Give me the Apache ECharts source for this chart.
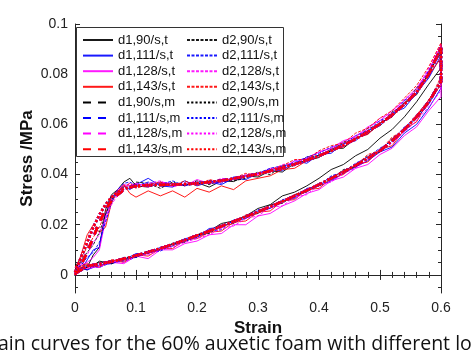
<!DOCTYPE html>
<html>
<head>
<meta charset="utf-8">
<script src="https://cdn.jsdelivr.net/npm/echarts@6/dist/echarts.min.js"></script>
<style>
html,body{margin:0;padding:0;background:#fff;}
#chart{width:474px;height:364px;}
</style>
</head>
<body>
<div id="chart"></div>
<script>
// ---------- DATA ----------
const loadStrain = [0,0.01,0.02,0.03,0.04,0.05,0.06,0.07,0.08,0.09,0.10,0.12,0.14,0.16,0.18,0.20,0.22,0.24,0.26,0.28,0.30,0.32,0.34,0.36,0.38,0.40,0.42,0.44,0.46,0.48,0.50,0.52,0.54,0.56,0.58,0.60];
const unloadStrain = [0.60,0.58,0.56,0.54,0.52,0.50,0.48,0.46,0.44,0.42,0.40,0.38,0.36,0.34,0.32,0.30,0.28,0.26,0.24,0.22,0.20,0.18,0.16,0.14,0.12,0.10,0.08,0.06,0.04,0.02,0.00];

// test curves (t)
const d1_90_t_load   = [0.004,0.005,0.003,0.008,0.011,0.026,0.032,0.034,0.037,0.0385,0.0355,0.035,0.037,0.0355,0.036,0.0368,0.035,0.0375,0.0372,0.0395,0.039,0.0415,0.041,0.0445,0.0455,0.0468,0.0502,0.0505,0.0545,0.0562,0.0605,0.063,0.0688,0.0718,0.0808,0.0885];
const d1_90_t_unload = [0.0825,0.076,0.069,0.063,0.058,0.0545,0.050,0.0475,0.044,0.042,0.0385,0.0355,0.033,0.0315,0.028,0.0265,0.0235,0.0215,0.0205,0.0175,0.016,0.0135,0.0125,0.010,0.0095,0.007,0.0065,0.0045,0.0055,0.002,0.004];
const d2_90_t_load   = [0.002,0.006,0.009,0.012,0.017,0.024,0.030,0.033,0.035,0.0345,0.037,0.0365,0.0345,0.037,0.0355,0.0375,0.036,0.038,0.0375,0.0385,0.041,0.040,0.0435,0.0435,0.047,0.0475,0.0495,0.053,0.054,0.0585,0.0595,0.065,0.0675,0.0745,0.0795,0.0905];
const d2_90_t_unload = [0.078,0.0685,0.0635,0.0575,0.0545,0.049,0.0475,0.043,0.042,0.038,0.0365,0.033,0.032,0.0285,0.028,0.0245,0.0235,0.0205,0.020,0.0165,0.016,0.013,0.0125,0.010,0.0095,0.007,0.007,0.0045,0.005,0.003,0.002];
const d1_111_t_load   = [0.003,0.002,0.006,0.010,0.011,0.024,0.031,0.033,0.0355,0.034,0.036,0.0385,0.0355,0.035,0.0375,0.0355,0.037,0.036,0.0385,0.038,0.0405,0.042,0.0415,0.0455,0.0445,0.048,0.0485,0.0525,0.0535,0.0575,0.0595,0.0645,0.0665,0.0725,0.0785,0.0875];
const d1_111_t_unload = [0.0745,0.0665,0.060,0.0565,0.051,0.049,0.0455,0.043,0.0405,0.0375,0.0355,0.034,0.0305,0.0295,0.0265,0.0255,0.0225,0.0215,0.019,0.0185,0.015,0.0145,0.0115,0.011,0.0085,0.0085,0.006,0.0045,0.004,0.002,0.003];
const d2_111_t_load   = [0.002,0.004,0.007,0.009,0.013,0.021,0.029,0.034,0.0365,0.037,0.0355,0.037,0.036,0.0375,0.0355,0.0365,0.0375,0.0365,0.039,0.0395,0.0405,0.0425,0.0435,0.0445,0.047,0.0485,0.051,0.052,0.0555,0.0575,0.0615,0.0635,0.0695,0.0725,0.0815,0.0895];
const d2_111_t_unload = [0.0765,0.068,0.0625,0.059,0.0535,0.0505,0.047,0.0445,0.041,0.0395,0.0355,0.0345,0.031,0.030,0.0265,0.026,0.0225,0.022,0.018,0.0175,0.015,0.0135,0.012,0.0095,0.009,0.007,0.0055,0.005,0.003,0.0035,0.0015];
const d1_128_t_load   = [0.003,0.004,0.005,0.007,0.010,0.022,0.030,0.034,0.036,0.0355,0.0365,0.035,0.037,0.0365,0.0355,0.038,0.0365,0.037,0.0385,0.0395,0.040,0.0425,0.0425,0.0455,0.0465,0.049,0.0505,0.0535,0.055,0.059,0.0615,0.0655,0.0695,0.0745,0.0815,0.0915];
const d1_128_t_unload = [0.071,0.0655,0.059,0.0555,0.0505,0.048,0.044,0.0425,0.039,0.0375,0.034,0.0325,0.0295,0.0275,0.0245,0.0235,0.020,0.020,0.0165,0.016,0.0135,0.0125,0.010,0.010,0.0065,0.0075,0.0045,0.005,0.0035,0.0025,0.003];
const d2_128_t_load   = [0.001,0.005,0.008,0.013,0.016,0.023,0.028,0.032,0.035,0.0365,0.0355,0.0365,0.0375,0.035,0.0365,0.037,0.0365,0.0385,0.038,0.040,0.0405,0.0415,0.044,0.0445,0.0465,0.049,0.0505,0.053,0.0555,0.058,0.0625,0.0645,0.070,0.0735,0.0825,0.092];
const d2_128_t_unload = [0.0735,0.067,0.0615,0.057,0.0525,0.0495,0.046,0.0425,0.0405,0.037,0.036,0.032,0.031,0.0275,0.027,0.0235,0.0225,0.0195,0.0185,0.016,0.0145,0.013,0.011,0.010,0.008,0.0075,0.005,0.0055,0.003,0.0035,0.0015];
const d1_143_t_load   = [0.002,0.008,0.016,0.020,0.017,0.019,0.029,0.033,0.036,0.0325,0.031,0.0335,0.0315,0.0335,0.031,0.0345,0.033,0.0355,0.034,0.0375,0.0385,0.0395,0.042,0.0425,0.0455,0.047,0.0495,0.051,0.0545,0.056,0.0605,0.063,0.0685,0.0725,0.0795,0.0865];
const d1_143_t_unload = [0.0755,0.070,0.061,0.058,0.0515,0.050,0.045,0.044,0.040,0.0385,0.0345,0.034,0.030,0.0295,0.0255,0.025,0.0215,0.021,0.0175,0.017,0.0145,0.014,0.0105,0.0105,0.0075,0.008,0.005,0.006,0.003,0.0045,0.0025];
const d2_143_t_load   = [0.003,0.007,0.011,0.015,0.019,0.025,0.031,0.0335,0.035,0.0365,0.0345,0.036,0.037,0.0355,0.0375,0.0355,0.038,0.037,0.0385,0.0405,0.0395,0.042,0.0435,0.046,0.046,0.0495,0.0515,0.0525,0.0565,0.0585,0.0625,0.0655,0.0705,0.0755,0.083,0.0925];
const d2_143_t_unload = [0.079,0.069,0.064,0.0575,0.055,0.0495,0.048,0.0435,0.0415,0.0385,0.0365,0.0335,0.032,0.029,0.0275,0.0245,0.024,0.0205,0.0195,0.017,0.016,0.0135,0.012,0.0105,0.0085,0.008,0.0055,0.006,0.0035,0.004,0.002];

// model curves (m)
const d1_m_load   = [0.000,0.004,0.009,0.015,0.021,0.026,0.0295,0.032,0.0338,0.0348,0.0354,0.0357,0.0359,0.036,0.0362,0.0365,0.037,0.0376,0.0384,0.0393,0.0403,0.0414,0.0427,0.0441,0.0457,0.0475,0.0495,0.0517,0.0542,0.057,0.0602,0.0638,0.068,0.0728,0.080,0.0905];
const d1_m_unload = [0.077,0.069,0.063,0.058,0.0535,0.0495,0.0465,0.0437,0.041,0.0385,0.036,0.0337,0.0315,0.0293,0.0272,0.0252,0.0232,0.0213,0.0194,0.0175,0.0157,0.0139,0.0122,0.0106,0.0091,0.0077,0.0064,0.0053,0.0044,0.0035,0.0005];
const d2_m_load   = [0.001,0.007,0.013,0.019,0.024,0.028,0.031,0.033,0.0343,0.035,0.0355,0.0358,0.036,0.036,0.0362,0.0365,0.037,0.0376,0.0384,0.0393,0.0403,0.0414,0.0427,0.0441,0.0457,0.0475,0.0495,0.0517,0.0542,0.057,0.0602,0.0638,0.068,0.0728,0.080,0.0905];
const d2_m_unload = [0.077,0.069,0.063,0.058,0.0535,0.0495,0.0465,0.0437,0.041,0.0385,0.036,0.0337,0.0315,0.0293,0.0272,0.0252,0.0232,0.0213,0.0194,0.0175,0.0157,0.0139,0.0122,0.0106,0.0091,0.0077,0.0064,0.0053,0.0044,0.0035,0.0005];

const xTicks = [0,0.1,0.2,0.3,0.4,0.5,0.6];
const yTicks = [0,0.02,0.04,0.06,0.08,0.1];
const yMinorTicks = [-0.005,0,0.005,0.01,0.015,0.02,0.025,0.03,0.035,0.04,0.045,0.05,0.055,0.06,0.065,0.07,0.075,0.08,0.085,0.09,0.095,0.1];

const xName = 'Strain';
const yName = 'Stress /MPa';
const caption = 'ain curves for the 60% auxetic foam with different lo';

// ---------- BUILD ----------
function loop(load, unload) {
  return loadStrain.map((x, i) => [x, load[i]])
    .concat(unloadStrain.map((x, i) => [x, unload[i]]));
}
const colors = { '90': '#000000', '111': '#0000ff', '128': '#ff00ff', '143': '#ff0000' };
const rates = ['90', '111', '128', '143'];
const tData = {
  d1: { '90': [d1_90_t_load, d1_90_t_unload], '111': [d1_111_t_load, d1_111_t_unload], '128': [d1_128_t_load, d1_128_t_unload], '143': [d1_143_t_load, d1_143_t_unload] },
  d2: { '90': [d2_90_t_load, d2_90_t_unload], '111': [d2_111_t_load, d2_111_t_unload], '128': [d2_128_t_load, d2_128_t_unload], '143': [d2_143_t_load, d2_143_t_unload] }
};
const mData = { d1: [d1_m_load, d1_m_unload], d2: [d2_m_load, d2_m_unload] };

const series = [];
['d1', 'd2'].forEach(d => {
  rates.forEach(r => {
    series.push({
      name: d + ',' + r + '/s,t', type: 'line', symbol: 'none', animation: false,
      data: loop(tData[d][r][0], tData[d][r][1]),
      lineStyle: { color: colors[r], width: 1, type: d === 'd1' ? 'solid' : [3, 1.5], opacity: 0.9 },
      itemStyle: { color: colors[r] }, z: 2
    });
  });
});
['d1', 'd2'].forEach(d => {
  rates.forEach(r => {
    series.push({
      name: d + ',' + r + '/s,m', type: 'line', symbol: 'none', animation: false,
      data: loop(mData[d][0], mData[d][1]),
      lineStyle: { color: colors[r], width: 2.6, type: d === 'd1' ? [8, 7] : [2.2, 2] },
      itemStyle: { color: colors[r] }, z: 3
    });
  });
});

const legendNames = d => ['t', 'm'].flatMap(k => rates.map(r => d + ',' + r + '/s,' + k));
const legendBase = {
  orient: 'vertical', top: 33, padding: 0, itemWidth: 30, itemHeight: 10, itemGap: 1.6,
  selectedMode: false, z: 6,
  itemStyle: { opacity: 0, borderWidth: 0 },
  textStyle: { fontSize: 13, lineHeight: 14, fontFamily: 'Liberation Sans, Arial, sans-serif', color: '#111' }
};

const axisColor = '#262626';
const fontFam = 'Liberation Sans, Arial, sans-serif';
const Y_MIN = -0.0072, Y_MAX = 0.1;

const chart = echarts.init(document.getElementById('chart'), null, { renderer: 'canvas' });
chart.setOption({
  backgroundColor: '#ffffff',
  animation: false,
  grid: { left: 75, right: 33, top: 24, bottom: 71, containLabel: false },
  legend: [
    Object.assign({}, legendBase, { left: 82, data: legendNames('d1') }),
    Object.assign({}, legendBase, { left: 186, data: legendNames('d2') })
  ],
  xAxis: [
    {
      type: 'value', min: 0, max: 0.6, interval: 0.1, position: 'bottom',
      name: xName, nameLocation: 'middle', nameGap: 27,
      nameTextStyle: { fontSize: 17, fontWeight: 'bold', color: '#111', fontFamily: fontFam },
      axisLine: { show: true, lineStyle: { color: axisColor, width: 1 } },
      axisTick: { show: true, inside: true, length: 5, lineStyle: { color: axisColor } },
      minorTick: { show: true, splitNumber: 5, length: 3, lineStyle: { color: axisColor } },
      axisLabel: { fontSize: 14, color: '#222', margin: 8, fontFamily: fontFam, customValues: xTicks },
      splitLine: { show: false }
    },
    {
      type: 'value', min: 0, max: 0.6, interval: 0.1, position: 'top',
      axisLine: { show: true, lineStyle: { color: axisColor, width: 1 } },
      axisTick: { show: true, inside: true, length: 5, lineStyle: { color: axisColor } },
      minorTick: { show: true, splitNumber: 5, length: 3, lineStyle: { color: axisColor } },
      axisLabel: { show: false }, splitLine: { show: false }
    }
  ],
  yAxis: [
    {
      type: 'value', min: Y_MIN, max: Y_MAX, position: 'left',
      name: yName, nameLocation: 'middle', nameGap: 39, nameRotate: 90, nameMoveOverlap: false,
      nameTextStyle: { fontSize: 17, fontWeight: 'bold', color: '#111', fontFamily: fontFam },
      axisLine: { show: true, lineStyle: { color: axisColor, width: 1 } },
      axisTick: { show: true, inside: true, length: 5, customValues: yTicks, lineStyle: { color: axisColor } },
      axisLabel: { fontSize: 14, color: '#222', margin: 7, fontFamily: fontFam, customValues: yTicks },
      splitLine: { show: false }
    },
    {
      type: 'value', min: Y_MIN, max: Y_MAX, position: 'left',
      axisLine: { show: false },
      axisTick: { show: true, inside: true, length: 3, customValues: yMinorTicks, lineStyle: { color: axisColor } },
      axisLabel: { show: false, customValues: yMinorTicks }, splitLine: { show: false }
    },
    {
      type: 'value', min: Y_MIN, max: Y_MAX, position: 'right',
      axisLine: { show: true, lineStyle: { color: axisColor, width: 1 } },
      axisTick: { show: true, inside: true, length: 5, customValues: yTicks, lineStyle: { color: axisColor } },
      axisLabel: { show: false, customValues: yTicks }, splitLine: { show: false }
    },
    {
      type: 'value', min: Y_MIN, max: Y_MAX, position: 'right',
      axisLine: { show: false },
      axisTick: { show: true, inside: true, length: 3, customValues: yMinorTicks, lineStyle: { color: axisColor } },
      axisLabel: { show: false, customValues: yMinorTicks }, splitLine: { show: false }
    }
  ],
  graphic: [
    {
      type: 'rect', z: 5, silent: true,
      shape: { x: 76.5, y: 27.5, width: 207, height: 129 },
      style: { fill: '#ffffff', stroke: '#333333', lineWidth: 1 }
    },
    {
      type: 'text', z: 5, left: -2, top: 334, silent: true,
      style: { text: caption, fontSize: 19.5, fontFamily: 'Open Sans, Noto Sans, sans-serif', fill: '#111' }
    }
  ],
  series: series
});
</script>
</body>
</html>
